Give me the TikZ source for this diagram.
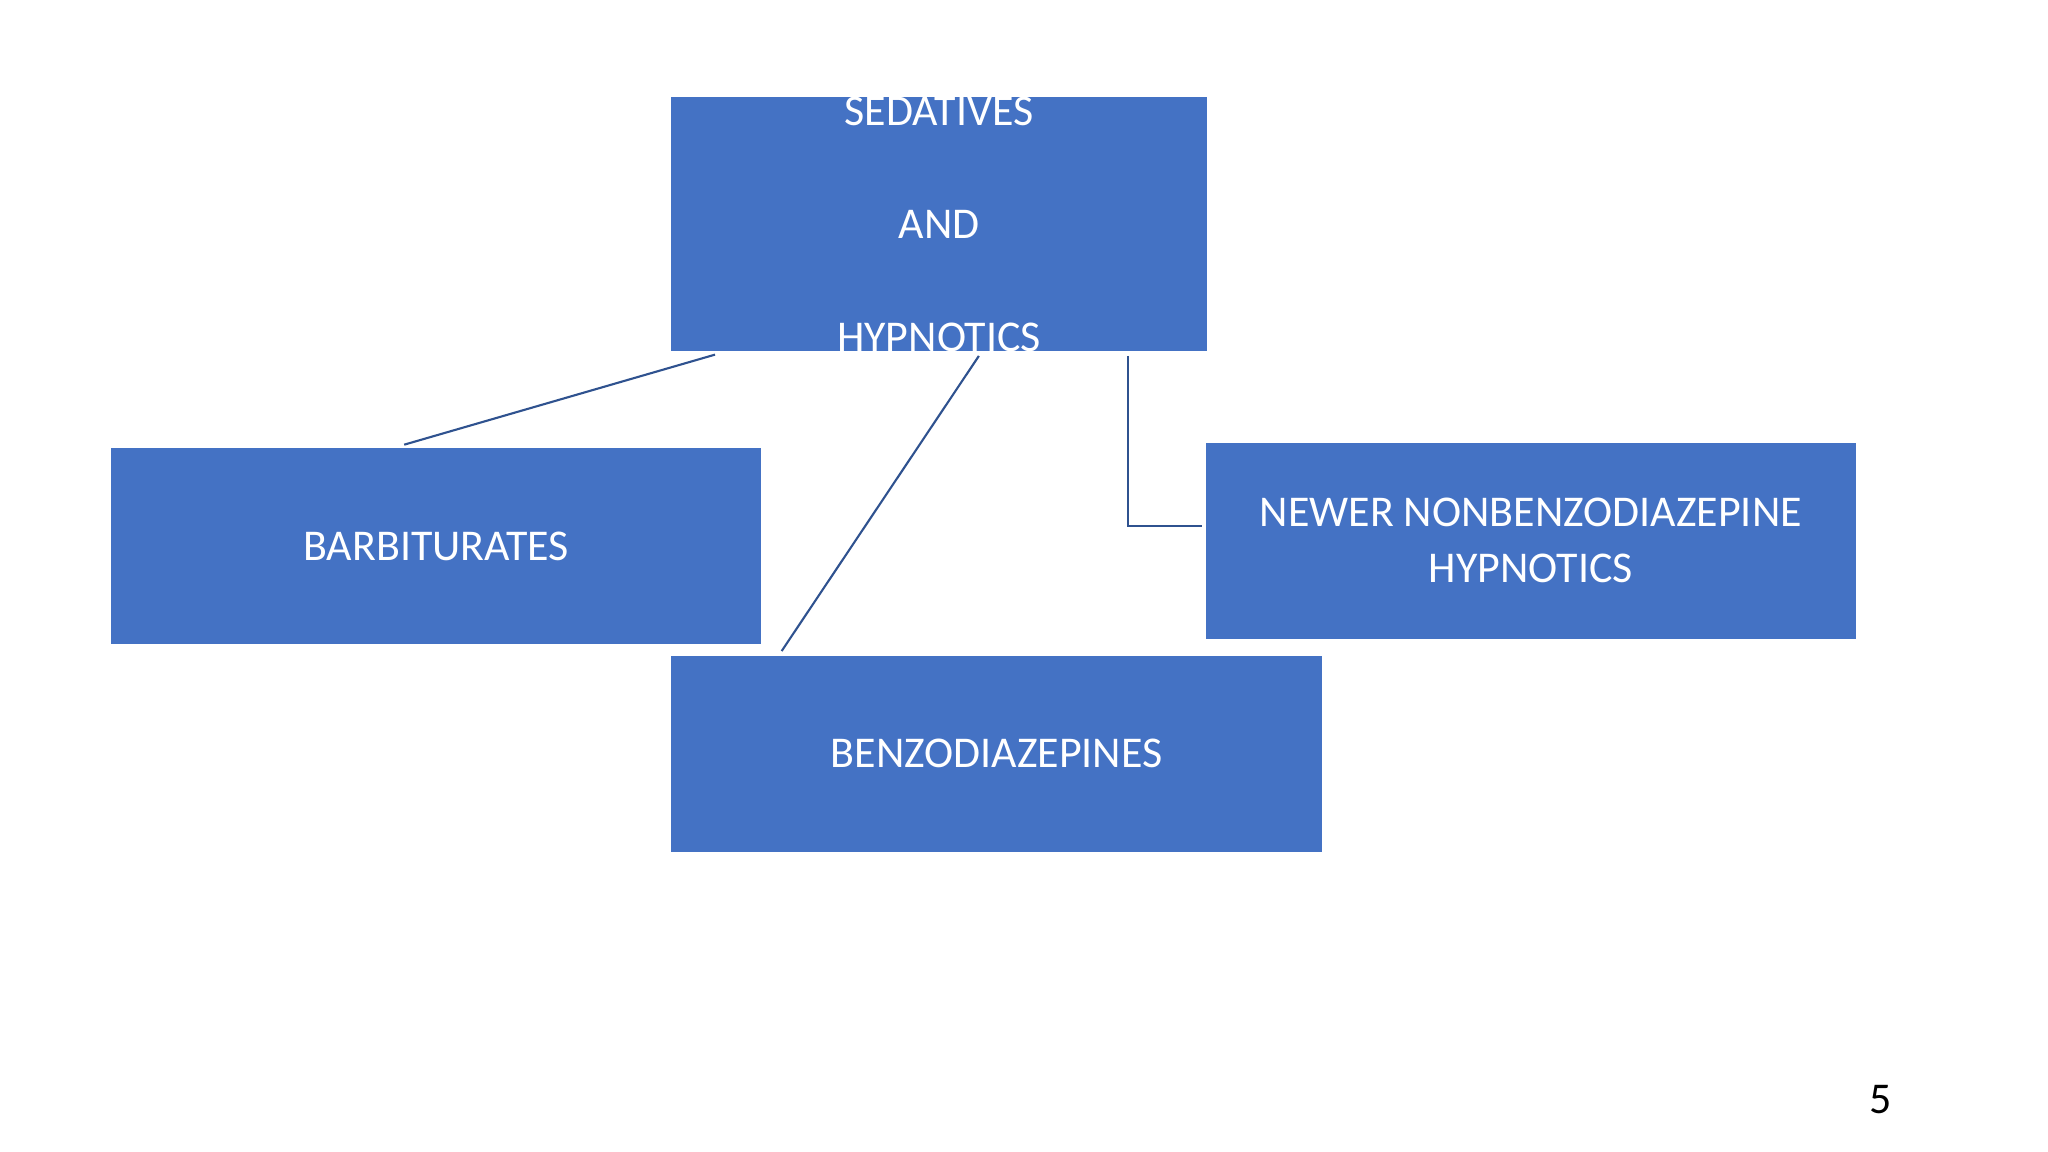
\documentclass[tikz,border=0pt]{standalone}
\usepackage{fontspec}
\setmainfont{Carlito}
\usetikzlibrary{calc}

\definecolor{boxblue}{HTML}{4472C4}
\definecolor{linkblue}{HTML}{2F528F}

\begin{document}
\begin{tikzpicture}[x=0.013061cm, y=-0.013061cm,
    box/.style={fill=boxblue, draw=none, text=white, align=center,
                font=\fontsize{12.5}{19}\selectfont, inner sep=0pt},
    link/.style={draw=linkblue, line width=0.6pt}]
    \useasboundingbox (0,0) rectangle (1568,882);

    \node[box, minimum width=410*0.013061cm, minimum height=173*0.013061cm] (top) at (719,171.5)
        {SEDATIVES\\[1.05em]AND\\[1.05em]HYPNOTICS};
    \node[box, minimum width=498*0.013061cm, minimum height=150*0.013061cm] (barb) at (334,418) {BARBITURATES};
    \node[box, minimum width=498*0.013061cm, minimum height=150*0.013061cm] (benzo) at (763,577) {BENZODIAZEPINES};
    \node[box, minimum width=498*0.013061cm, minimum height=150*0.013061cm] (newer) at (1172,414)
        {NEWER NONBENZODIAZEPINE\\[-0.25em]HYPNOTICS};

    % connectors
    \draw[link] ($(top.south west)+(34,2)$) -- ($(barb.north west)+(225,-2)$);
    \draw[link] ($(top.south west)+(236,3)$) -- ($(benzo.north west)+(85,-3)$);
    \draw[link] ($(top.south west)+(350,3)$) |- ($(newer.west)+(-2,-11)$);

    \node[font=\fontsize{12.5}{15}\selectfont] (page) at (1440,842) {5};
\end{tikzpicture}
\end{document}
